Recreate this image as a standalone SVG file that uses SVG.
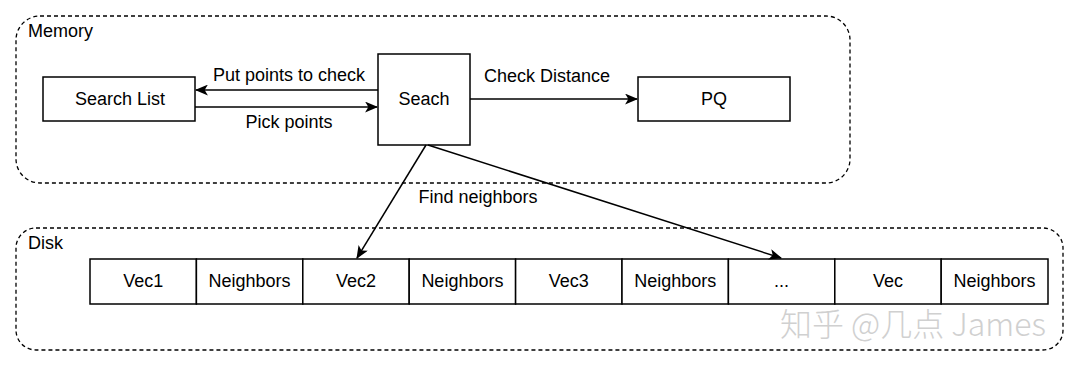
<svg xmlns="http://www.w3.org/2000/svg" width="1080" height="366" viewBox="0 0 1080 366">
<style>
.box{fill:#fff;stroke:#000;stroke-width:1.5}
.grp{fill:none;stroke:#000;stroke-width:1.3;stroke-dasharray:4 3}
.t{font-family:"Liberation Sans",Arial,sans-serif;font-size:18px;fill:#000}
.c{text-anchor:middle}
.edge{fill:none;stroke:#000;stroke-width:1.5}
.wm{font-family:"Noto Sans CJK SC","Liberation Sans",sans-serif;font-size:32px;font-weight:300;fill:#d0d0d0}
</style>
<defs>
<marker id="arr" viewBox="0 0 12 10" refX="11" refY="5" markerWidth="13" markerHeight="11" markerUnits="userSpaceOnUse" orient="auto">
<path d="M0,0 L12,5 L0,10 L3,5 Z" fill="#000"/>
</marker>
</defs>
<rect fill="#fff" x="0" y="0" width="1080" height="366"/>
<g id="memory">
<rect class="grp" x="16" y="16" width="834" height="167" rx="24"/>
<text class="t" x="28" y="37">Memory</text>
</g>
<g id="disk">
<rect class="grp" x="16" y="228" width="1047" height="122" rx="20"/>
<text class="t" x="28" y="249">Disk</text>
</g>
<g id="searchlist">
<rect class="box" x="43" y="77" width="152" height="44"/>
<text class="t c" x="120" y="105">Search List</text>
</g>
<g id="seach">
<rect class="box" x="378" y="54" width="92" height="91"/>
<text class="t c" x="424" y="105">Seach</text>
</g>
<g id="pq">
<rect class="box" x="638" y="77" width="152" height="44"/>
<text class="t c" x="714" y="105">PQ</text>
</g>
<g id="row">
<rect class="box" x="90" y="259" width="106.4" height="45"/>
<rect class="box" x="196.4" y="259" width="106.4" height="45"/>
<rect class="box" x="302.8" y="259" width="106.4" height="45"/>
<rect class="box" x="409.2" y="259" width="106.4" height="45"/>
<rect class="box" x="515.6" y="259" width="106.4" height="45"/>
<rect class="box" x="622" y="259" width="106.4" height="45"/>
<rect class="box" x="728.4" y="259" width="106.4" height="45"/>
<rect class="box" x="834.8" y="259" width="106.4" height="45"/>
<rect class="box" x="941.2" y="259" width="106.8" height="45"/>
<text class="t c" x="143.2" y="287">Vec1</text>
<text class="t c" x="249.6" y="287">Neighbors</text>
<text class="t c" x="356" y="287">Vec2</text>
<text class="t c" x="462.4" y="287">Neighbors</text>
<text class="t c" x="568.8" y="287">Vec3</text>
<text class="t c" x="675.2" y="287">Neighbors</text>
<text class="t c" x="781.6" y="287">...</text>
<text class="t c" x="888" y="287">Vec</text>
<text class="t c" x="994.6" y="287">Neighbors</text>
</g>
<g id="connectors">
<line class="edge" x1="378" y1="90" x2="196" y2="90" marker-end="url(#arr)"/>
<line class="edge" x1="195" y1="107" x2="377" y2="107" marker-end="url(#arr)"/>
<line class="edge" x1="470" y1="99" x2="637" y2="99" marker-end="url(#arr)"/>
<line class="edge" x1="426" y1="145" x2="357" y2="258" marker-end="url(#arr)"/>
<line class="edge" x1="428" y1="145" x2="781" y2="258" marker-end="url(#arr)"/>
<text class="t c" x="289" y="81">Put points to check</text>
<text class="t c" x="289" y="128">Pick points</text>
<text class="t c" x="547" y="82">Check Distance</text>
<text class="t c" x="478" y="203">Find neighbors</text>
</g>
<text class="wm" x="780" y="336">知乎 @几点 James</text>
</svg>
